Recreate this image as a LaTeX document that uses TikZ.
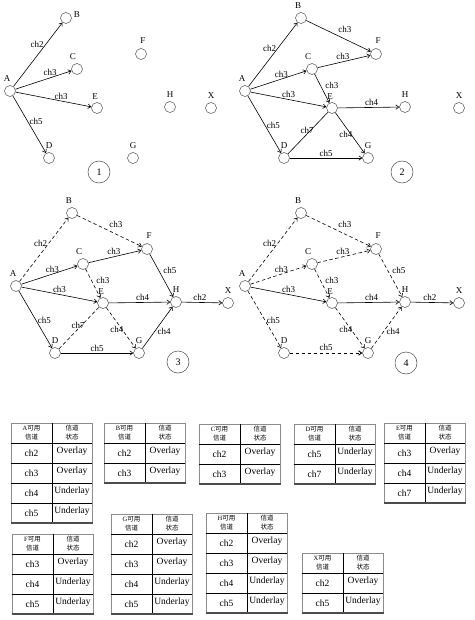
\documentclass[tikz,border=0pt]{standalone}
\usepackage{fontspec}
\setmainfont{Liberation Serif}
\newfontfamily\cjk{Noto Sans CJK SC}
\usetikzlibrary{arrows.meta}

\begin{document}
\begin{tikzpicture}[x=1pt, y=-1pt,
            font = \fontsize{9}{10}\selectfont,
            vertex/.style = {draw=black!70, circle, minimum size=11pt, inner sep=0pt, line width=0.5pt},
            numcircle/.style = {draw=black!70, circle, minimum size=22pt, inner sep=0pt, line width=0.5pt, font=\fontsize{10}{12}\selectfont},
            link/.style = {draw, line width=0.6pt, -{Straight Barb[length=3pt,width=4.5pt]}},
            plainlink/.style = {draw, line width=0.6pt},
            dlink/.style = {link, dash pattern=on 3.5pt off 2.5pt},
            dplainlink/.style = {plainlink, dash pattern=on 3.5pt off 2.5pt},
            lbl/.style = {inner sep=1.5pt},
            head/.style = {inner sep=0pt, align=center, font=\cjk\fontsize{6.5}{9}\selectfont},
            cell/.style = {inner sep=0pt, font=\fontsize{9.5}{11}\selectfont},
            rowline/.style = {draw, line width=0.8pt},
            splitline/.style = {draw, line width=1pt},
            boxline/.style = {draw=black!45, line width=0.6pt},
            shadowline/.style = {draw=black!70, line width=1.3pt}
        ]
        \useasboundingbox (0,0) rectangle (474,620);
        % the four networks
        \foreach \n/\dx/\dy/\xx/\kx/\ky in {1/0/0/211/99/172, 2/235/0/224/167/172, 3/6/195/222/172/167, 4/235/195/224/171/168} {
            \begin{scope}[shift={(\dx,\dy)}]
                \node[vertex, label={[name=Al\n, xshift=-3pt]above:A}] (A\n) at (10,91) {};
                \node[vertex] (B\n) at (66,18) {};
                \node[vertex, label={[name=Cl\n, xshift=-4pt]above:C}] (C\n) at (77,69) {};
                \node[vertex, label={[name=Fl\n, xshift=2pt, yshift=1pt]above:F}] (F\n) at (141,54) {};
                \node[vertex, label={[name=El\n, xshift=-2pt, yshift=-1pt]above:E}] (E\n) at (97,108) {};
                \node[vertex, label={[name=Hl\n]above:H}] (H\n) at (170,107) {};
                \node[vertex, label={[name=Xl\n]above:X}] (X\n) at (\xx,108) {};
                \node[vertex, label={[name=Dl\n]above:D}] (D\n) at (49,158) {};
                \node[vertex, label={[name=Gl\n]above:G}] (G\n) at (133,158) {};
                \node[numcircle] (N\n) at (\kx,\ky) {\n};
            \end{scope}
        }
        \node[anchor=west, inner sep=2pt, yshift=3pt] (Bl1) at (B1.east) {B};
        \foreach \n in {2,3,4}
            \node[above, xshift=-3pt] (Bl\n) at (B\n.north) {B};

        % network 1
        \draw[link] (A1) -- node[lbl, pos=0.65, left] (l1ab) {ch2} (B1);
        \draw[link] (A1) -- node[lbl, pos=0.62, above] (l1ac) {ch3} (C1);
        \draw[link] (A1) -- node[lbl, pos=0.6, above] (l1ae) {ch3} (E1);
        \draw[link] (A1) -- node[lbl, pos=0.45, right] (l1ad) {ch5} (D1);

        % network 2
        \draw[link] (A2) -- node[lbl, pos=0.6, left] (l2ab) {ch2} (B2);
        \draw[link] (B2) -- node[lbl, pos=0.6, above=5pt] (l2bf) {ch3} (F2);
        \draw[link] (A2) -- node[lbl, pos=0.55, above] (l2ac) {ch3} (C2);
        \draw[link] (C2) -- node[lbl, pos=0.48, above] (l2cf) {ch3} (F2);
        \draw[link] (C2) -- node[lbl, pos=0.4, right=3pt] (l2ce) {ch3} (E2);
        \draw[link] (A2) -- node[lbl, pos=0.5, above] (l2ae) {ch3} (E2);
        \draw[link] (E2) -- node[lbl, pos=0.55, above] (l2eh) {ch4} (H2);
        \draw[link] (A2) -- node[lbl, pos=0.52, right] (l2ad) {ch5} (D2);
        \draw[plainlink] (D2) -- node[lbl, pos=0.55, xshift=-3pt] (l2de) {ch7} (E2);
        \draw[link] (E2) -- node[lbl, pos=0.53, xshift=-5pt] (l2eg) {ch4} (G2);
        \draw[link] (D2) -- node[lbl, pos=0.5, above] (l2dg) {ch5} (G2);

        % network 3
        \draw[dlink] (A3) -- node[lbl, pos=0.6, left] (l3ab) {ch2} (B3);
        \draw[dlink] (B3) -- node[lbl, pos=0.6, above=5pt] (l3bf) {ch3} (F3);
        \draw[link] (A3) -- node[lbl, pos=0.55, above] (l3ac) {ch3} (C3);
        \draw[link] (C3) -- node[lbl, pos=0.48, above] (l3cf) {ch3} (F3);
        \draw[dlink] (C3) -- node[lbl, pos=0.4, right=3pt] (l3ce) {ch3} (E3);
        \draw[link] (A3) -- node[lbl, pos=0.5, above] (l3ae) {ch3} (E3);
        \draw[link] (E3) -- node[lbl, pos=0.55, above] (l3eh) {ch4} (H3);
        \draw[link] (F3) -- node[lbl, pos=0.38, right=3pt] (l3fh) {ch5} (H3);
        \draw[link] (H3) -- node[lbl, pos=0.45, above] (l3hx) {ch2} (X3);
        \draw[link] (A3) -- node[lbl, pos=0.52, right] (l3ad) {ch5} (D3);
        \draw[dplainlink] (D3) -- node[lbl, pos=0.55, xshift=-3pt] (l3de) {ch7} (E3);
        \draw[dlink] (E3) -- node[lbl, pos=0.53, xshift=-5pt] (l3eg) {ch4} (G3);
        \draw[link] (D3) -- node[lbl, pos=0.5, above] (l3dg) {ch5} (G3);
        \draw[link] (G3) -- node[lbl, pos=0.41, right=1pt] (l3gh) {ch4} (H3);

        % network 4
        \draw[dlink] (A4) -- node[lbl, pos=0.6, left] (l4ab) {ch2} (B4);
        \draw[dlink] (B4) -- node[lbl, pos=0.6, above=5pt] (l4bf) {ch3} (F4);
        \draw[dlink] (A4) -- node[lbl, pos=0.55, above] (l4ac) {ch3} (C4);
        \draw[dlink] (C4) -- node[lbl, pos=0.48, above] (l4cf) {ch3} (F4);
        \draw[dlink] (C4) -- node[lbl, pos=0.4, right=3pt] (l4ce) {ch3} (E4);
        \draw[link] (A4) -- node[lbl, pos=0.5, above] (l4ae) {ch3} (E4);
        \draw[link] (E4) -- node[lbl, pos=0.55, above] (l4eh) {ch4} (H4);
        \draw[dlink] (F4) -- node[lbl, pos=0.38, right=3pt] (l4fh) {ch5} (H4);
        \draw[link] (H4) -- node[lbl, pos=0.45, above] (l4hx) {ch2} (X4);
        \draw[dlink] (A4) -- node[lbl, pos=0.52, right] (l4ad) {ch5} (D4);
        \draw[dlink, line width=0.9pt] (D4) -- node[lbl, pos=0.5, above] (l4dg) {ch5} (G4);
        \draw[dlink] (E4) -- node[lbl, pos=0.53, xshift=-5pt] (l4eg) {ch4} (G4);
        \draw[dlink] (G4) -- node[lbl, pos=0.41, right=1pt] (l4gh) {ch4} (H4);

        % channel tables
        \foreach \tb/\x/\y/\m/\rows in {
                A/11/423/4/{ch2/Overlay,ch3/Overlay,ch4/Underlay,ch5/Underlay},
                B/104/423/2/{ch2/Overlay,ch3/Overlay},
                C/199/424/2/{ch2/Overlay,ch3/Overlay},
                D/294/424/2/{ch5/Underlay,ch7/Underlay},
                E/384/423/3/{ch3/Overlay,ch4/Underlay,ch7/Underlay},
                F/12/534/3/{ch3/Overlay,ch4/Underlay,ch5/Underlay},
                G/111/514/4/{ch2/Overlay,ch3/Overlay,ch4/Underlay,ch5/Underlay},
                H/206/513/4/{ch2/Overlay,ch3/Overlay,ch4/Underlay,ch5/Underlay},
                X/302/553/2/{ch2/Overlay,ch5/Underlay}} {
            \begin{scope}[shift={(\x,\y)}]
                \draw[boxline] (0,0) rectangle (81,20*\m+20);
                \draw[splitline] (41,0) -- (41,20*\m+20);
                \draw[shadowline] (0,20*\m+20) -- (81.5,20*\m+20);
                \node[head] (h1\tb) at (20.5,10) {{\rmfamily\tb}可用\\信道};
                \node[head] (h2\tb) at (61,10) {信道\\状态};
                \foreach \chan/\stat [count=\i] in \rows {
                    \draw[rowline] (0,20*\i) -- (81,20*\i);
                    \node[cell] (c\i\tb) at (20.5,20*\i+10) {\chan};
                    \node[cell, yshift=1.5pt] (s\i\tb) at (61,20*\i+10) {\stat};
                }
            \end{scope}
        }
    \end{tikzpicture}
\end{document}
